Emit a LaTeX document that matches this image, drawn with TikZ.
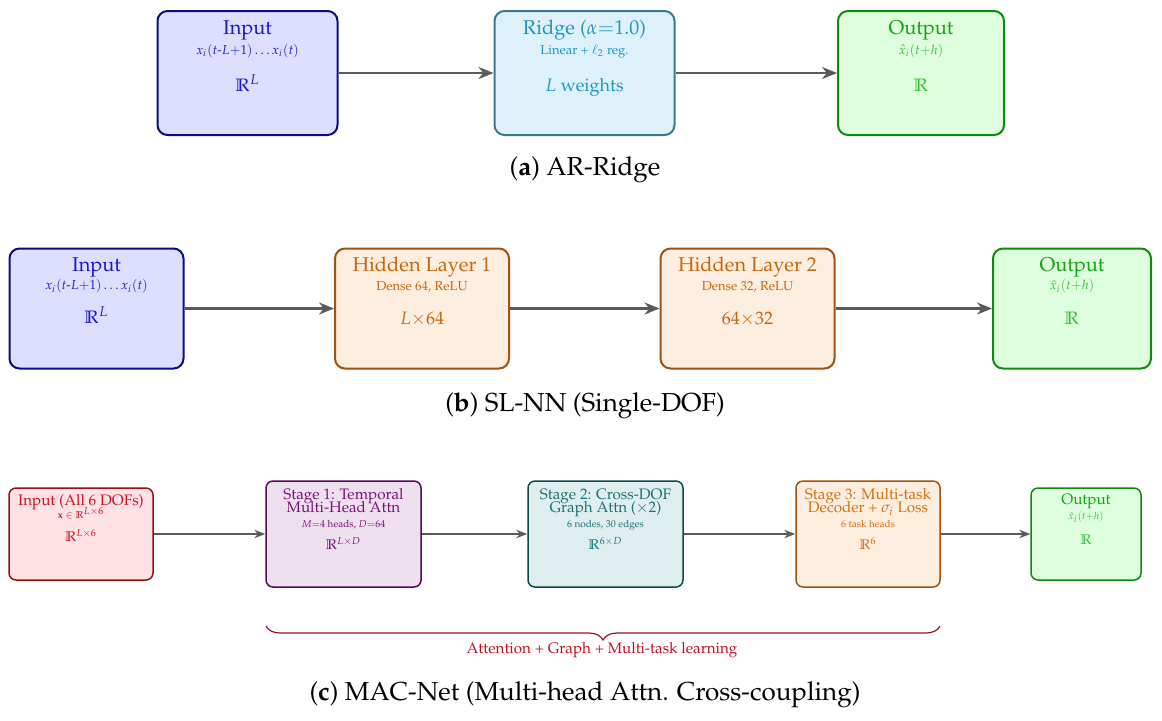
\documentclass[tikz,border=0pt]{standalone}
\usepackage[T1]{fontenc}
\usepackage{mathpazo}
\usepackage{amsmath,amssymb}
\usetikzlibrary{arrows.meta,calc,decorations.pathreplacing}
\definecolor{inB}{HTML}{0C0C80}\definecolor{inF}{HTML}{DEDFFE}\definecolor{inT}{HTML}{1818CC}
\definecolor{rdB}{HTML}{3A7A90}\definecolor{rdF}{HTML}{DEF1FA}\definecolor{rdT}{HTML}{1C98C0}
\definecolor{ouB}{HTML}{0E8A0E}\definecolor{ouF}{HTML}{DEFEDE}\definecolor{ouT}{HTML}{12A812}\definecolor{ouS}{HTML}{38C038}
\definecolor{hdB}{HTML}{A0520E}\definecolor{hdF}{HTML}{FEEEDF}\definecolor{hdT}{HTML}{C8660E}
\definecolor{ciB}{HTML}{981010}\definecolor{ciF}{HTML}{FEE2E6}\definecolor{ciT}{HTML}{D0101E}
\definecolor{s1B}{HTML}{520852}\definecolor{s1F}{HTML}{EEE0EE}\definecolor{s1T}{HTML}{7C107C}
\definecolor{s2B}{HTML}{0E4848}\definecolor{s2F}{HTML}{DFEEEE}\definecolor{s2T}{HTML}{1C7272}
\definecolor{s3B}{HTML}{A0520E}\definecolor{s3F}{HTML}{FEEEDF}\definecolor{s3T}{HTML}{D0700E}
\definecolor{arG}{HTML}{5A5A5A}
\definecolor{brC}{HTML}{A01020}\definecolor{brT}{HTML}{C01020}
\newcommand\mytwoline[2]{\vtop{\baselineskip=6.5pt\lineskiplimit=-20pt\lineskip=0pt\halign{\hfil##\hfil\cr#1\cr#2\cr}}}
\tikzset{
  bigbox/.style={draw, rounded corners=5pt, line width=1pt, inner sep=0pt},
  smbox/.style={draw, rounded corners=3.5pt, line width=0.75pt, inner sep=0pt},
  ttl/.style={anchor=base, inner sep=0pt, font=\fontsize{10}{12}\selectfont},
  sub/.style={anchor=base, inner sep=0pt, font=\fontsize{6.5}{8}\selectfont},
  mainl/.style={anchor=base, inner sep=0pt, font=\fontsize{9}{11}\selectfont},
  cttl/.style={anchor=base, inner sep=0pt, font=\fontsize{7.6}{9}\selectfont},
  csub/.style={anchor=base, inner sep=0pt, font=\fontsize{5}{6}\selectfont},
  cmain/.style={anchor=base, inner sep=0pt, font=\fontsize{7}{8}\selectfont},
  capt/.style={anchor=base, inner sep=0pt, font=\fontsize{13}{15}\selectfont},
  arrbig/.style={draw=arG, line width=1.2pt, -{Stealth[length=7.5pt,width=6pt]}},
  arrsm/.style={draw=arG, line width=0.7pt, -{Stealth[length=5.5pt,width=4.2pt]}},
}
\begin{document}
\begin{tikzpicture}[x=0.5pt,y=-0.5pt]
\useasboundingbox (0,0) rectangle (1162,720);
% ---------- panel a ----------
\node[bigbox, draw=inB, fill=inF, minimum width=90pt, minimum height=62pt] (aIn) at (247.5,73) {};
\node[bigbox, draw=rdB, fill=rdF, minimum width=90pt, minimum height=62pt] (aRd) at (584.5,73) {};
\node[bigbox, draw=ouB, fill=ouF, minimum width=83pt, minimum height=62pt] (aOu) at (921,73) {};
\node[ttl, text=inT] (aInT) at ($(aIn.north)+(0,24)$) {Input};
\node[sub, text=inT] (aInS) at ($(aIn.north)+(0,44)$) {$x_i(t\text{-}L{+}1)\ldots x_i(t)$};
\node[mainl, text=inT] (aInM) at ($(aIn.north)+(0,81)$) {$\mathbb{R}^{L}$};
\node[ttl, text=rdT] (aRdT) at ($(aRd.north)+(0,24)$) {Ridge ($\alpha{=}1.0$)};
\node[sub, text=rdT] (aRdS) at ($(aRd.north)+(0,44)$) {Linear + $\ell_2$ reg.};
\node[mainl, text=rdT] (aRdM) at ($(aRd.north)+(0,81)$) {$L$ weights};
\node[ttl, text=ouT] (aOuT) at ($(aOu.north)+(0,24)$) {Output};
\node[sub, text=ouS] (aOuS) at ($(aOu.north)+(0,44)$) {$\hat{x}_i(t{+}h)$};
\node[mainl, text=ouS] (aOuM) at ($(aOu.north)+(0,81)$) {$\mathbb{R}$};
\draw[arrbig] (aIn.east) -- (aRd.west);
\draw[arrbig] (aRd.east) -- (aOu.west);
\node[capt] (capA) at (585,175) {(\textbf{a}) AR-Ridge};
% ---------- panel b ----------
\node[bigbox, draw=inB, fill=inF, minimum width=87pt, minimum height=60pt] (bIn) at (96.5,308.5) {};
\node[bigbox, draw=hdB, fill=hdF, minimum width=87pt, minimum height=60pt] (bH1) at (422,308.5) {};
\node[bigbox, draw=hdB, fill=hdF, minimum width=87pt, minimum height=60pt] (bH2) at (747.5,308.5) {};
\node[bigbox, draw=ouB, fill=ouF, minimum width=79pt, minimum height=60pt] (bOu) at (1072,308.5) {};
\node[ttl, text=inT] (bInT) at ($(bIn.north)+(0,24)$) {Input};
\node[sub, text=inT] (bInS) at ($(bIn.north)+(0,42)$) {$x_i(t\text{-}L{+}1)\ldots x_i(t)$};
\node[mainl, text=inT] (bInM) at ($(bIn.north)+(0,76)$) {$\mathbb{R}^{L}$};
\node[ttl, text=hdT] (bH1T) at ($(bH1.north)+(0,24)$) {Hidden Layer 1};
\node[sub, text=hdT] (bH1S) at ($(bH1.north)+(0,43)$) {Dense 64, ReLU};
\node[mainl, text=hdT] (bH1M) at ($(bH1.north)+(0,77)$) {$L{\times}64$};
\node[ttl, text=hdT] (bH2T) at ($(bH2.north)+(0,24)$) {Hidden Layer 2};
\node[sub, text=hdT] (bH2S) at ($(bH2.north)+(0,43)$) {Dense 32, ReLU};
\node[mainl, text=hdT] (bH2M) at ($(bH2.north)+(0,77)$) {$64{\times}32$};
\node[ttl, text=ouT] (bOuT) at ($(bOu.north)+(0,24)$) {Output};
\node[sub, text=ouS] (bOuS) at ($(bOu.north)+(0,42)$) {$\hat{x}_i(t{+}h)$};
\node[mainl, text=ouS] (bOuM) at ($(bOu.north)+(0,77)$) {$\mathbb{R}$};
\draw[arrbig] (bIn.east) -- (bH1.west);
\draw[arrbig] (bH1.east) -- (bH2.west);
\draw[arrbig] (bH2.east) -- (bOu.west);
\node[capt] (capB) at (585,411) {(\textbf{b}) SL-NN (Single-DOF)};
% ---------- panel c ----------
\node[smbox, draw=ciB, fill=ciF, minimum width=72pt, minimum height=46pt] (cIn) at (81,534) {};
\node[smbox, draw=s1B, fill=s1F, minimum width=77.5pt, minimum height=53pt] (cS1) at (343.5,534) {};
\node[smbox, draw=s2B, fill=s2F, minimum width=77.5pt, minimum height=53pt] (cS2) at (605.5,534) {};
\node[smbox, draw=s3B, fill=s3F, minimum width=72pt, minimum height=53pt] (cS3) at (868,534) {};
\node[smbox, draw=ouB, fill=ouF, minimum width=55pt, minimum height=46pt] (cOu) at (1086,534) {};
\node[cttl, text=ciT] (cInT) at ($(cIn.north)+(0,18)$) {Input (All 6 DOFs)};
\node[csub, text=ciT] (cInS) at ($(cIn.north)+(0,31)$) {$\mathbf{x}\in\mathbb{R}^{L\times 6}$};
\node[cmain, text=ciT] (cInM) at ($(cIn.north)+(0,54)$) {$\mathbb{R}^{L\times 6}$};
\node[cttl, text=s1T] (cS1T) at ($(cS1.north)+(0,19)$) {\mytwoline{Stage 1: Temporal}{Multi-Head Attn}};
\node[csub, text=s1T] (cS1S) at ($(cS1.north)+(0,47.5)$) {$M{=}4$ heads, $D{=}64$};
\node[cmain, text=s1T] (cS1M) at ($(cS1.north)+(0,69)$) {$\mathbb{R}^{L\times D}$};
\node[cttl, text=s2T] (cS2T) at ($(cS2.north)+(0,19)$) {\mytwoline{Stage 2: Cross-DOF}{Graph Attn ($\times$2)}};
\node[csub, text=s2T] (cS2S) at ($(cS2.north)+(0,47.5)$) {6 nodes, 30 edges};
\node[cmain, text=s2T] (cS2M) at ($(cS2.north)+(0,69)$) {$\mathbb{R}^{6\times D}$};
\node[cttl, text=s3T] (cS3T) at ($(cS3.north)+(0,19)$) {\mytwoline{Stage 3: Multi-task}{Decoder + $\sigma_i$ Loss}};
\node[csub, text=s3T] (cS3S) at ($(cS3.north)+(0,47.5)$) {6 task heads};
\node[cmain, text=s3T] (cS3M) at ($(cS3.north)+(0,69)$) {$\mathbb{R}^{6}$};
\node[cttl, text=ouT] (cOuT) at ($(cOu.north)+(0,17)$) {Output};
\node[csub, text=ouS] (cOuS) at ($(cOu.north)+(0,32)$) {$\hat{x}_i(t{+}h)$};
\node[cmain, text=ouS] (cOuM) at ($(cOu.north)+(0,57)$) {$\mathbb{R}$};
\draw[arrsm] (cIn.east) -- (cS1.west);
\draw[arrsm] (cS1.east) -- (cS2.west);
\draw[arrsm] (cS2.east) -- (cS3.west);
\draw[arrsm] (cS3.east) -- (cOu.west);
\coordinate (brL) at (266,626);
\coordinate (brR) at (940,626);
\draw[brC, line width=0.6pt, decorate, decoration={brace, mirror, amplitude=7pt}] (brL) -- (brR);
\node[cttl, text=brT] (brLab) at (602,653) {Attention + Graph + Multi-task learning};
\node[capt] (capC) at (585,700) {(\textbf{c}) MAC-Net (Multi-head Attn. Cross-coupling)};
\end{tikzpicture}
\end{document}
